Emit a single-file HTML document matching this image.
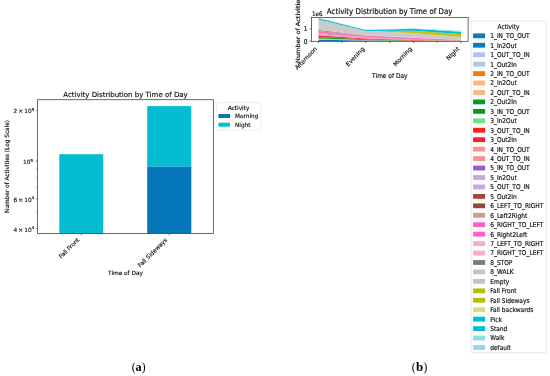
<!DOCTYPE html>
<html lang="en"><head><meta charset="utf-8"><title>Activity Distribution by Time of Day</title>
<style>html,body{margin:0;padding:0;background:#fff}body{width:550px;height:376px;overflow:hidden}svg{display:block}text{font-family:'DejaVu Sans','Liberation Sans',sans-serif;fill:#111;stroke:#111;stroke-width:.16px}.s{font-family:"Liberation Serif","DejaVu Serif",serif;fill:#000;stroke:none}</style></head><body>
<svg width="550" height="376" viewBox="0 0 550 376">
<rect width="550" height="376" fill="#fff"/>
<g id="chart-a">
<rect x="59.3" y="154.2" width="43.9" height="79.2" fill="#04bdd1"/>
<rect x="147.2" y="106.1" width="44.1" height="60.6" fill="#04bdd1"/>
<rect x="147.2" y="166.7" width="44.1" height="66.7" fill="#0576ba"/>
<rect x="37.5" y="99.75" width="176.0" height="133.7" fill="none" stroke="#2a2a2a" stroke-width="0.7"/>
<line x1="36.2" y1="228.5" x2="37.5" y2="228.5" stroke="#2a2a2a" stroke-width="0.6"/>
<line x1="36.2" y1="198.7" x2="37.5" y2="198.7" stroke="#2a2a2a" stroke-width="0.6"/>
<line x1="35.5" y1="161.2" x2="37.5" y2="161.2" stroke="#2a2a2a" stroke-width="0.6"/>
<line x1="36.2" y1="110.3" x2="37.5" y2="110.3" stroke="#2a2a2a" stroke-width="0.6"/>
<line x1="36.3" y1="212.1" x2="37.5" y2="212.1" stroke="#2a2a2a" stroke-width="0.45"/>
<line x1="36.3" y1="187.4" x2="37.5" y2="187.4" stroke="#2a2a2a" stroke-width="0.45"/>
<line x1="36.3" y1="177.6" x2="37.5" y2="177.6" stroke="#2a2a2a" stroke-width="0.45"/>
<line x1="36.3" y1="168.9" x2="37.5" y2="168.9" stroke="#2a2a2a" stroke-width="0.45"/>
<line x1="81.3" y1="233.4" x2="81.3" y2="235.4" stroke="#2a2a2a" stroke-width="0.6"/>
<line x1="169.3" y1="233.4" x2="169.3" y2="235.4" stroke="#2a2a2a" stroke-width="0.6"/>
<text x="34.2" y="113.3" font-size="5.8" text-anchor="end">2<tspan dx="1.1">×</tspan><tspan dx="1.1">10</tspan><tspan font-size="4" dy="-2.3">5</tspan></text>
<text x="33.0" y="164.2" font-size="5.8" text-anchor="end">10<tspan font-size="4" dy="-2.3">5</tspan></text>
<text x="34.2" y="201.7" font-size="5.8" text-anchor="end">6<tspan dx="1.1">×</tspan><tspan dx="1.1">10</tspan><tspan font-size="4" dy="-2.3">4</tspan></text>
<text x="34.2" y="231.5" font-size="5.8" text-anchor="end">4<tspan dx="1.1">×</tspan><tspan dx="1.1">10</tspan><tspan font-size="4" dy="-2.3">4</tspan></text>
<text transform="translate(79.6,240.4) rotate(-45)" font-size="5.8" text-anchor="end">Fall Front</text>
<text transform="translate(167.6,240.4) rotate(-45)" font-size="5.8" text-anchor="end">Fall Sideways</text>
<text x="125.5" y="274.8" font-size="5.8" text-anchor="middle">Time of Day</text>
<text transform="translate(8.8,166.5) rotate(-90)" font-size="5.8" text-anchor="middle">Number of Activities (Log Scale)</text>
<text x="125.5" y="96.5" font-size="7" text-anchor="middle">Activity Distribution by Time of Day</text>
<rect x="216.2" y="102.7" width="44.6" height="27.4" rx="1.2" fill="#fff" stroke="#dedede" stroke-width="0.6"/>
<text x="238.6" y="109.6" font-size="5.8" text-anchor="middle">Activity</text>
<rect x="218.4" y="114.0" width="11.6" height="4" fill="#0576ba"/>
<text x="235" y="118" font-size="5.8">Morning</text>
<rect x="218.4" y="122.7" width="11.6" height="4" fill="#04bdd1"/>
<text x="235" y="126.7" font-size="5.8">Night</text>
</g>
<g id="chart-b">
<clipPath id="cb"><rect x="311.4" y="17.6" width="156.7" height="23.7"/></clipPath>
<g clip-path="url(#cb)">
<polygon points="318.5,39.7 366.0,40.5 413.5,41.0 461.0,41.25 461.0,41.3 413.5,41.3 366.0,41.3 318.5,41.3" fill="#0f72bc"/>
<polygon points="318.5,39.3 366.0,40.35 413.5,40.95 461.0,41.2 461.0,41.25 413.5,41.0 366.0,40.5 318.5,39.7" fill="#b4cdea"/>
<polygon points="318.5,38.4 366.0,39.9 413.5,40.7 461.0,41.1 461.0,41.2 413.5,40.95 366.0,40.35 318.5,39.3" fill="#fb9a3c"/>
<polygon points="318.5,37.0 366.0,39.3 413.5,40.45 461.0,41.0 461.0,41.1 413.5,40.7 366.0,39.9 318.5,38.4" fill="#12a028"/>
<polygon points="318.5,35.3 366.0,38.5 413.5,40.1 461.0,40.9 461.0,41.0 413.5,40.45 366.0,39.3 318.5,37.0" fill="#fb3034"/>
<polygon points="318.5,34.1 366.0,37.8 413.5,39.85 461.0,40.6 461.0,40.9 413.5,40.1 366.0,38.5 318.5,35.3" fill="#ff9a98"/>
<polygon points="318.5,33.1 366.0,37.3 413.5,39.65 461.0,40.3 461.0,40.6 413.5,39.85 366.0,37.8 318.5,34.1" fill="#b898b8"/>
<polygon points="318.5,31.0 366.0,35.4 413.5,37.65 461.0,40.15 461.0,40.3 413.5,39.65 366.0,37.3 318.5,33.1" fill="#fb72c4"/>
<polygon points="318.5,30.9 366.0,35.35 413.5,37.6 461.0,40.13 461.0,40.15 413.5,37.65 366.0,35.4 318.5,31.0" fill="#ffb0d4"/>
<polygon points="318.5,30.0 366.0,35.25 413.5,37.5 461.0,40.1 461.0,40.13 413.5,37.6 366.0,35.35 318.5,30.9" fill="#808080"/>
<polygon points="318.5,19.5 366.0,31.0 413.5,32.9 461.0,37.0 461.0,40.1 413.5,37.5 366.0,35.25 318.5,30.0" fill="#cbcbcb"/>
<polygon points="318.5,19.5 366.0,30.95 413.5,30.8 461.0,34.1 461.0,37.0 413.5,32.9 366.0,31.0 318.5,19.5" fill="#c4c408"/>
<polygon points="318.5,18.3 366.0,30.0 413.5,28.8 461.0,31.8 461.0,34.1 413.5,30.8 366.0,30.95 318.5,19.5" fill="#06bdd6"/>
<polygon points="318.5,18.1 366.0,29.8 413.5,28.4 461.0,30.8 461.0,31.8 413.5,28.8 366.0,30.0 318.5,18.3" fill="#90dce8"/>
</g>
<rect x="311.4" y="17.6" width="156.7" height="23.7" fill="none" stroke="#2a2a2a" stroke-width="0.7"/>
<line x1="318.5" y1="41.3" x2="318.5" y2="43.099999999999994" stroke="#2a2a2a" stroke-width="0.6"/>
<line x1="342.2" y1="41.3" x2="342.2" y2="43.099999999999994" stroke="#2a2a2a" stroke-width="0.6"/>
<line x1="366.0" y1="41.3" x2="366.0" y2="43.099999999999994" stroke="#2a2a2a" stroke-width="0.6"/>
<line x1="389.8" y1="41.3" x2="389.8" y2="43.099999999999994" stroke="#2a2a2a" stroke-width="0.6"/>
<line x1="413.5" y1="41.3" x2="413.5" y2="43.099999999999994" stroke="#2a2a2a" stroke-width="0.6"/>
<line x1="437.2" y1="41.3" x2="437.2" y2="43.099999999999994" stroke="#2a2a2a" stroke-width="0.6"/>
<line x1="461.0" y1="41.3" x2="461.0" y2="43.099999999999994" stroke="#2a2a2a" stroke-width="0.6"/>
<line x1="309.59999999999997" y1="41.0" x2="311.4" y2="41.0" stroke="#2a2a2a" stroke-width="0.6"/>
<line x1="309.59999999999997" y1="28.9" x2="311.4" y2="28.9" stroke="#2a2a2a" stroke-width="0.6"/>
<text transform="translate(307.5,43.6) scale(1,1.12)" font-size="5.9" text-anchor="end">0</text>
<text transform="translate(307.6,31.3) scale(1,1.12)" font-size="5.9" text-anchor="end">1</text>
<text transform="translate(312,15.7) scale(1,1.12)" font-size="5.6">1e6</text>
<text transform="translate(389.6,14.4) scale(1,1.12)" font-size="7.08" text-anchor="middle">Activity Distribution by Time of Day</text>
<text transform="translate(389.8,78.4) scale(1,1.12)" font-size="5.9" text-anchor="middle">Time of Day</text>
<text transform="translate(300.0,29.6) scale(1,1.12) rotate(-90)" font-size="5.85" text-anchor="middle">Number of Activities</text>
<text transform="translate(317.3,49.2) scale(1,1.06) rotate(-45)" font-size="5.8" text-anchor="end">Afternoon</text>
<text transform="translate(364.8,49.2) scale(1,1.06) rotate(-45)" font-size="5.8" text-anchor="end">Evening</text>
<text transform="translate(412.3,49.2) scale(1,1.06) rotate(-45)" font-size="5.8" text-anchor="end">Morning</text>
<text transform="translate(459.8,49.2) scale(1,1.06) rotate(-45)" font-size="5.8" text-anchor="end">Night</text>
<rect x="471" y="20.8" width="75.3" height="331.8" rx="1.3" fill="#fff" stroke="#dadada" stroke-width="0.6"/>
<text transform="translate(508.5,28.6) scale(1,1.12)" font-size="5.9" text-anchor="middle">Activity</text>
<rect x="473.1" y="33.40" width="12" height="4.8" fill="#0f78bf"/>
<text transform="translate(490.2,38.2) scale(1,1.12)" font-size="5.9">1_IN_TO_OUT</text>
<rect x="473.1" y="42.84" width="12" height="4.8" fill="#0f78bf"/>
<text transform="translate(490.2,47.64) scale(1,1.12)" font-size="5.9">1_In2Out</text>
<rect x="473.1" y="52.29" width="12" height="4.8" fill="#a8c8ee"/>
<text transform="translate(490.2,57.09) scale(1,1.12)" font-size="5.9">1_OUT_TO_IN</text>
<rect x="473.1" y="61.73" width="12" height="4.8" fill="#a8c8ee"/>
<text transform="translate(490.2,66.53) scale(1,1.12)" font-size="5.9">1_Out2In</text>
<rect x="473.1" y="71.18" width="12" height="4.8" fill="#ff7800"/>
<text transform="translate(490.2,75.98) scale(1,1.12)" font-size="5.9">2_IN_TO_OUT</text>
<rect x="473.1" y="80.62" width="12" height="4.8" fill="#ffb878"/>
<text transform="translate(490.2,85.43) scale(1,1.12)" font-size="5.9">2_In2Out</text>
<rect x="473.1" y="90.07" width="12" height="4.8" fill="#ffb878"/>
<text transform="translate(490.2,94.87) scale(1,1.12)" font-size="5.9">2_OUT_TO_IN</text>
<rect x="473.1" y="99.52" width="12" height="4.8" fill="#0a9a22"/>
<text transform="translate(490.2,104.32) scale(1,1.12)" font-size="5.9">2_Out2In</text>
<rect x="473.1" y="108.96" width="12" height="4.8" fill="#0a9a22"/>
<text transform="translate(490.2,113.76) scale(1,1.12)" font-size="5.9">3_IN_TO_OUT</text>
<rect x="473.1" y="118.40" width="12" height="4.8" fill="#70e080"/>
<text transform="translate(490.2,123.2) scale(1,1.12)" font-size="5.9">3_In2Out</text>
<rect x="473.1" y="127.85" width="12" height="4.8" fill="#fb1c22"/>
<text transform="translate(490.2,132.65) scale(1,1.12)" font-size="5.9">3_OUT_TO_IN</text>
<rect x="473.1" y="137.29" width="12" height="4.8" fill="#fb1c22"/>
<text transform="translate(490.2,142.09) scale(1,1.12)" font-size="5.9">3_Out2In</text>
<rect x="473.1" y="146.74" width="12" height="4.8" fill="#ff8e8c"/>
<text transform="translate(490.2,151.54) scale(1,1.12)" font-size="5.9">4_IN_TO_OUT</text>
<rect x="473.1" y="156.18" width="12" height="4.8" fill="#ff8e8c"/>
<text transform="translate(490.2,160.98) scale(1,1.12)" font-size="5.9">4_OUT_TO_IN</text>
<rect x="473.1" y="165.63" width="12" height="4.8" fill="#9060c8"/>
<text transform="translate(490.2,170.43) scale(1,1.12)" font-size="5.9">5_IN_TO_OUT</text>
<rect x="473.1" y="175.08" width="12" height="4.8" fill="#c8a8e0"/>
<text transform="translate(490.2,179.88) scale(1,1.12)" font-size="5.9">5_In2Out</text>
<rect x="473.1" y="184.52" width="12" height="4.8" fill="#c8a8e0"/>
<text transform="translate(490.2,189.32) scale(1,1.12)" font-size="5.9">5_OUT_TO_IN</text>
<rect x="473.1" y="193.97" width="12" height="4.8" fill="#9c4838"/>
<text transform="translate(490.2,198.77) scale(1,1.12)" font-size="5.9">5_Out2In</text>
<rect x="473.1" y="203.41" width="12" height="4.8" fill="#9c4838"/>
<text transform="translate(490.2,208.21) scale(1,1.12)" font-size="5.9">6_LEFT_TO_RIGHT</text>
<rect x="473.1" y="212.85" width="12" height="4.8" fill="#d89890"/>
<text transform="translate(490.2,217.66) scale(1,1.12)" font-size="5.9">6_Left2Right</text>
<rect x="473.1" y="222.30" width="12" height="4.8" fill="#ff60c8"/>
<text transform="translate(490.2,227.1) scale(1,1.12)" font-size="5.9">6_RIGHT_TO_LEFT</text>
<rect x="473.1" y="231.74" width="12" height="4.8" fill="#ff60c8"/>
<text transform="translate(490.2,236.54) scale(1,1.12)" font-size="5.9">6_Right2Left</text>
<rect x="473.1" y="241.19" width="12" height="4.8" fill="#ffa8d0"/>
<text transform="translate(490.2,245.99) scale(1,1.12)" font-size="5.9">7_LEFT_TO_RIGHT</text>
<rect x="473.1" y="250.64" width="12" height="4.8" fill="#ffa8d0"/>
<text transform="translate(490.2,255.44) scale(1,1.12)" font-size="5.9">7_RIGHT_TO_LEFT</text>
<rect x="473.1" y="260.08" width="12" height="4.8" fill="#7a7a7a"/>
<text transform="translate(490.2,264.88) scale(1,1.12)" font-size="5.9">8_STOP</text>
<rect x="473.1" y="269.53" width="12" height="4.8" fill="#c4c4c4"/>
<text transform="translate(490.2,274.32) scale(1,1.12)" font-size="5.9">8_WALK</text>
<rect x="473.1" y="278.97" width="12" height="4.8" fill="#c4c4c4"/>
<text transform="translate(490.2,283.77) scale(1,1.12)" font-size="5.9">Empty</text>
<rect x="473.1" y="288.42" width="12" height="4.8" fill="#b8bc08"/>
<text transform="translate(490.2,293.21) scale(1,1.12)" font-size="5.9">Fall Front</text>
<rect x="473.1" y="297.86" width="12" height="4.8" fill="#b8bc08"/>
<text transform="translate(490.2,302.66) scale(1,1.12)" font-size="5.9">Fall Sideways</text>
<rect x="473.1" y="307.31" width="12" height="4.8" fill="#dcdc88"/>
<text transform="translate(490.2,312.11) scale(1,1.12)" font-size="5.9">Fall backwards</text>
<rect x="473.1" y="316.75" width="12" height="4.8" fill="#00bcd8"/>
<text transform="translate(490.2,321.55) scale(1,1.12)" font-size="5.9">Pick</text>
<rect x="473.1" y="326.20" width="12" height="4.8" fill="#00bcd8"/>
<text transform="translate(490.2,331.0) scale(1,1.12)" font-size="5.9">Stand</text>
<rect x="473.1" y="335.64" width="12" height="4.8" fill="#90dce8"/>
<text transform="translate(490.2,340.44) scale(1,1.12)" font-size="5.9">Walk</text>
<rect x="473.1" y="345.09" width="12" height="4.8" fill="#90dce8"/>
<text transform="translate(490.2,349.88) scale(1,1.12)" font-size="5.9">default</text>
</g>
<text class="s" x="138.6" y="370.6" font-size="11.5" text-anchor="middle">(<tspan font-weight="bold" font-size="12.2">a</tspan>)</text>
<text class="s" x="419.6" y="370.6" font-size="11.5" text-anchor="middle">(<tspan font-weight="bold" font-size="13" dx="0.4">b</tspan><tspan dx="0.4">)</tspan></text>
</svg></body></html>
